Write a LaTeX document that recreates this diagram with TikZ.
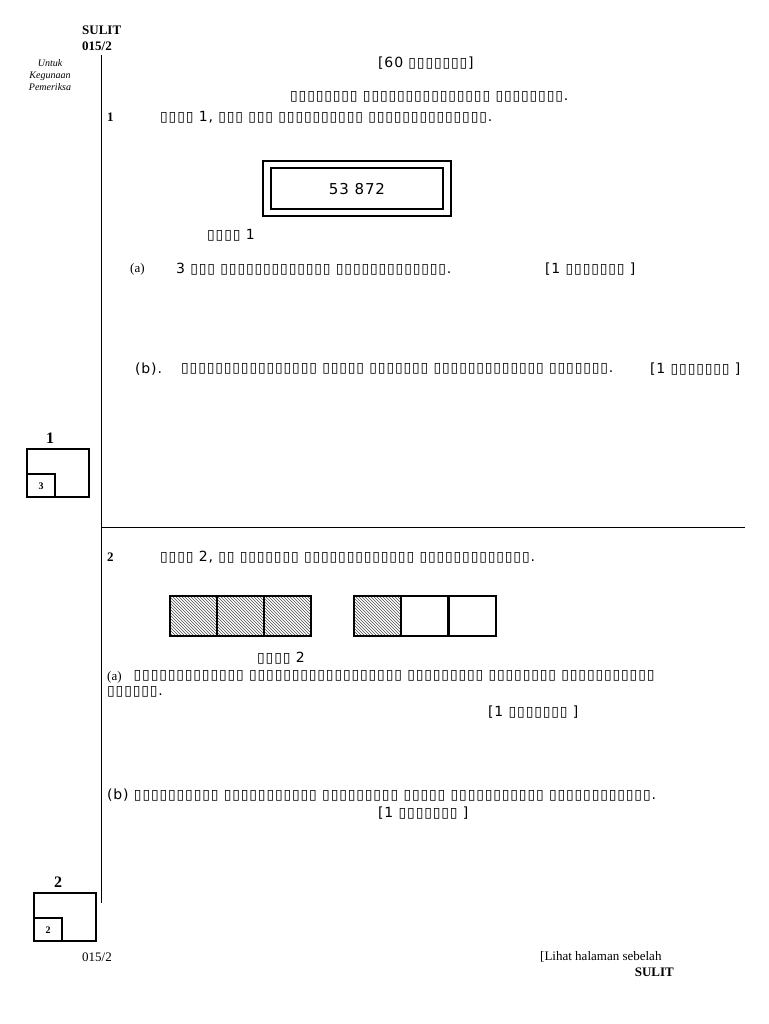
\documentclass[tikz,border=0pt]{standalone}
\usepackage{fontspec}
\setmainfont{Liberation Serif}
\newfontfamily\tofu[LetterSpace=6]{DejaVu Sans}
\usetikzlibrary{patterns}
\tikzset{qtext/.style={anchor=west, inner sep=0pt, font=\tofu\fontsize{14}{16}\selectfont},
  serif/.style={anchor=west, inner sep=0pt, font=\fontsize{13}{15}\selectfont},
  hdr/.style={anchor=west, inner sep=0pt, font=\bfseries\fontsize{13}{15}\selectfont},
  cell/.style={draw, line width=1.5pt, minimum width=47pt, minimum height=40pt, inner sep=0pt},
  hatch/.style={pattern=north west lines, pattern color=black!70}}
\begin{document}
\begin{tikzpicture}[x=1pt,y=-1pt]
\useasboundingbox (0,0) rectangle (768,1024);
% header
\node[hdr] (sulit) at (82,30) {SULIT};
\node[hdr] (code) at (82,46) {015/2};
\node[align=center, font=\itshape\fontsize{10}{12}\selectfont] (untuk) at (50,75) {Untuk\\Kegunaan\\Pemeriksa};
\draw (101,55) -- (101,903);
\draw (101,527) -- (745,527);
\node[qtext] (marks) at (378,63) {[60 ▯▯▯▯▯▯▯]};
\node[qtext] (instr) at (290,97) {▯▯▯▯▯▯▯▯ ▯▯▯▯▯▯▯▯▯▯▯▯▯▯▯ ▯▯▯▯▯▯▯▯.};
% question 1
\node[hdr] (q1) at (107,117) {1};
\node[qtext] (q1t) at (160,117) {▯▯▯▯ 1, ▯▯▯ ▯▯▯ ▯▯▯▯▯▯▯▯▯▯ ▯▯▯▯▯▯▯▯▯▯▯▯▯▯.};
\draw[line width=1.2pt] (263,161) rectangle (451,216);
\draw[line width=1.8pt] (271,168) rectangle (443,209);
\node[font=\tofu\fontsize{15}{17}\selectfont] (num) at (357,189) {53 872};
\node[qtext] (rajah1) at (207,235) {▯▯▯▯ 1};
\node[serif] (q1a) at (130,269) {(a)};
\node[qtext] (q1at) at (176,269) {3 ▯▯▯ ▯▯▯▯▯▯▯▯▯▯▯▯▯ ▯▯▯▯▯▯▯▯▯▯▯▯▯.};
\node[qtext] (q1am) at (545,269) {[1 ▯▯▯▯▯▯▯ ]};
\node[qtext] (q1b) at (135,369) {(b).};
\node[qtext] (q1bt) at (181,369) {▯▯▯▯▯▯▯▯▯▯▯▯▯▯▯▯ ▯▯▯▯▯ ▯▯▯▯▯▯▯ ▯▯▯▯▯▯▯▯▯▯▯▯▯ ▯▯▯▯▯▯▯.};
\node[qtext] (q1bm) at (650,369) {[1 ▯▯▯▯▯▯▯ ]};
% score box 1
\node[font=\bfseries\fontsize{16}{18}\selectfont] (s1) at (50,438) {1};
\draw[line width=1.5pt] (27,449) rectangle (89,497);
\draw[line width=1.5pt] (27,474) rectangle (55,497);
\node[font=\bfseries\fontsize{10}{12}\selectfont] (s1n) at (41,486) {3};
% question 2
\node[hdr] (q2) at (107,557) {2};
\node[qtext] (q2t) at (160,557) {▯▯▯▯ 2, ▯▯ ▯▯▯▯▯▯▯ ▯▯▯▯▯▯▯▯▯▯▯▯▯ ▯▯▯▯▯▯▯▯▯▯▯▯▯.};
\foreach \i/\x in {1/193.5,2/240.5,3/287.5}
  \node[cell, hatch] (a\i) at (\x,616) {};
\node[cell, hatch] (b1) at (377.5,616) {};
\node[cell] (b2) at (424.5,616) {};
\node[cell] (b3) at (472.5,616) {};
\node[qtext] (rajah2) at (257,658) {▯▯▯▯ 2};
\node[serif] (q2a) at (107,677) {(a)};
\node[qtext, align=left, anchor=north west] (q2at) at (107,669) {\phantom{(a)}\ ▯▯▯▯▯▯▯▯▯▯▯▯▯ ▯▯▯▯▯▯▯▯▯▯▯▯▯▯▯▯▯▯ ▯▯▯▯▯▯▯▯▯ ▯▯▯▯▯▯▯▯ ▯▯▯▯▯▯▯▯▯▯▯\\▯▯▯▯▯▯.};
\node[qtext] (q2am) at (488,712) {[1 ▯▯▯▯▯▯▯ ]};
\node[qtext] (q2bt) at (107,795) {(b) ▯▯▯▯▯▯▯▯▯▯ ▯▯▯▯▯▯▯▯▯▯▯ ▯▯▯▯▯▯▯▯▯ ▯▯▯▯▯ ▯▯▯▯▯▯▯▯▯▯▯ ▯▯▯▯▯▯▯▯▯▯▯▯.};
\node[qtext] (q2bm) at (378,813) {[1 ▯▯▯▯▯▯▯ ]};
% score box 2
\node[font=\bfseries\fontsize{16}{18}\selectfont] (s2) at (58,882) {2};
\draw[line width=1.5pt] (34,893) rectangle (96,941);
\draw[line width=1.5pt] (34,918) rectangle (62,941);
\node[font=\bfseries\fontsize{10}{12}\selectfont] (s2n) at (48,930) {2};
% footer
\node[serif] (fcode) at (82,957) {015/2};
\node[serif] (lihat) at (540,957) {[Lihat halaman sebelah};
\node[hdr, anchor=east] (fsulit) at (674,972) {SULIT};
\end{tikzpicture}
\end{document}
